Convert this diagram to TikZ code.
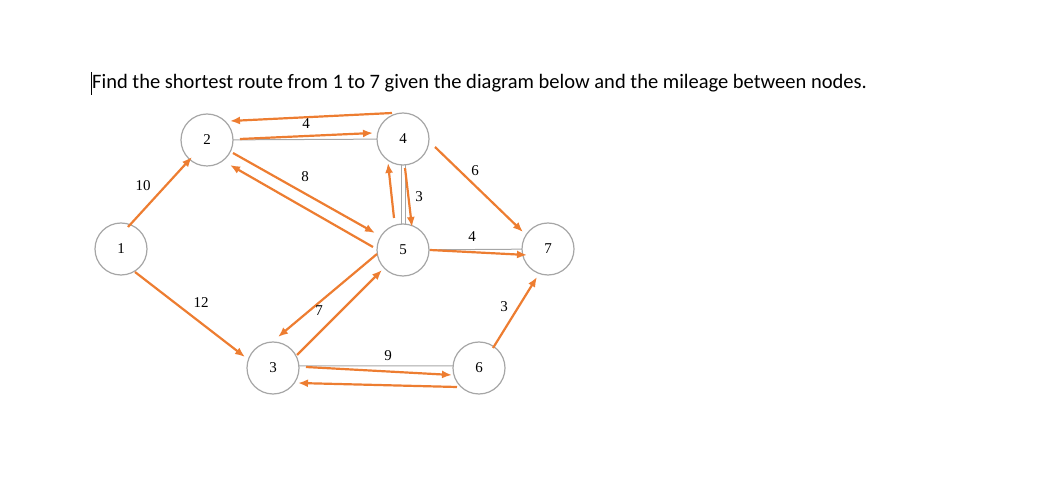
\documentclass[tikz,border=0pt]{standalone}
\usepackage{fontspec}
\setmainfont{Liberation Serif}
\newfontfamily\titlefont{Carlito}
\usetikzlibrary{arrows.meta}
\definecolor{org}{HTML}{ED7D31}
\begin{document}
\begin{tikzpicture}[x=1pt,y=-1pt,
  vtx/.style={circle,draw=gray!70,line width=1.2pt,fill=white,minimum size=52pt,inner sep=0pt,font=\fontsize{15}{15}\selectfont},
  edge/.style={gray!70,line width=1pt},
  arr/.style={org,line width=2.2pt,-{Latex[length=10pt,width=8pt]}},
  lab/.style={font=\fontsize{15}{15}\selectfont,inner sep=0pt}]
\useasboundingbox (0,0) rectangle (1045,478);
\node[anchor=west,inner sep=0pt,font=\titlefont\fontsize{20.5}{20.5}\selectfont] (title) at (92,83) {Find the shortest route from 1 to 7 given the diagram below and the mileage between nodes.};
\draw[line width=0.8pt] (91,72) -- (91,95);
\coordinate (c1) at (121,249);
\coordinate (c2) at (207,140);
\coordinate (c4) at (403,139);
\coordinate (c5) at (403,250);
\coordinate (c7) at (548,249);
\coordinate (c3) at (273,368);
\coordinate (c6) at (479,368);
\draw[edge] (c2)--(c4) (c5)--(c7) ([yshift=2pt]c3)--([yshift=2pt]c6);
\draw[edge] ([xshift=-2pt]c4)--([xshift=-2pt]c5) ([xshift=2pt]c4)--([xshift=2pt]c5);
\node[vtx] (n1) at (c1) {1};
\node[vtx] (n2) at (c2) {2};
\node[vtx] (n4) at (c4) {4};
\node[vtx] (n5) at (c5) {5};
\node[vtx] (n7) at (c7) {7};
\node[vtx] (n3) at (c3) {3};
\node[vtx] (n6) at (c6) {6};
\draw[arr] (392,113) -- (230,121);
\draw[arr] (240,139) -- (373,133);
\draw[arr] (128,227) -- (192,157);
\draw[arr] (233,153) -- (375,233);
\draw[arr] (373,247) -- (230,165);
\draw[arr] (394,218) -- (388,163);
\draw[arr] (405,168) -- (412,227);
\draw[arr] (435,147) -- (523,232);
\draw[arr] (430,250) -- (527,255);
\draw[arr] (135,272) -- (245,357);
\draw[arr] (377,254) -- (278,337);
\draw[arr] (297,355) -- (382,270);
\draw[arr] (306,367) -- (452,375);
\draw[arr] (457,387) -- (298,383);
\draw[arr] (493,348) -- (537,277);
\node[lab] (l24) at (306,124) {4};
\node[lab] (l12) at (143,186) {10};
\node[lab] (l25) at (305,177) {8};
\node[lab] (l45) at (419,197) {3};
\node[lab] (l47) at (475,171) {6};
\node[lab] (l57) at (472,237) {4};
\node[lab] (l13) at (201,303) {12};
\node[lab] (l35) at (319,311) {7};
\node[lab] (l36) at (388,356) {9};
\node[lab] (l67) at (504,307) {3};
\end{tikzpicture}
\end{document}
